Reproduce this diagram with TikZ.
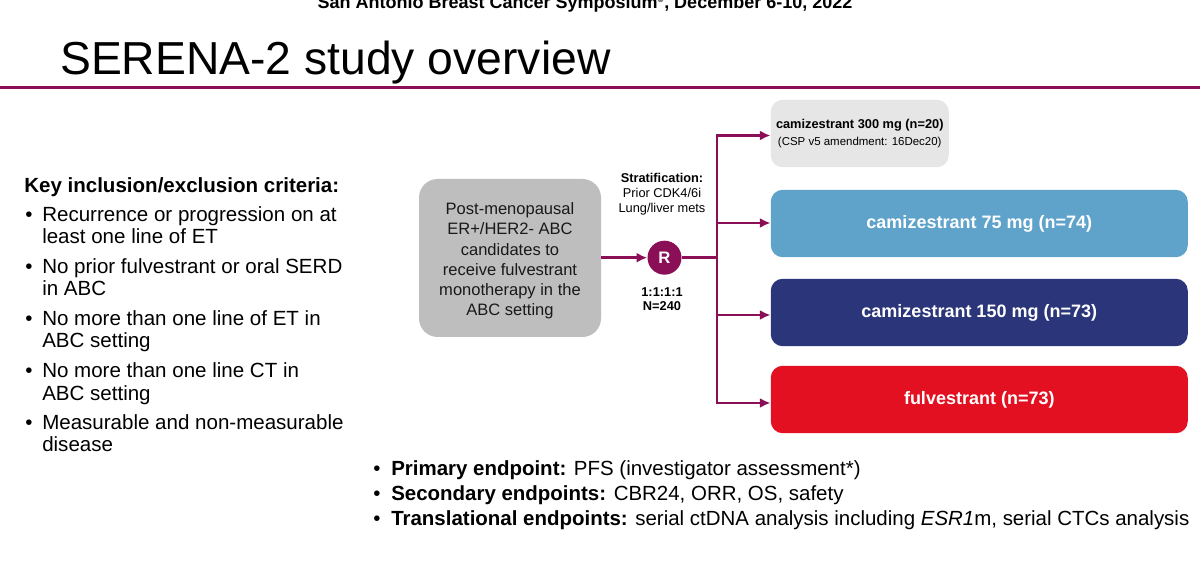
\documentclass[tikz,border=0pt]{standalone}
\usepackage{fontspec}
\setmainfont{Liberation Sans}
\usetikzlibrary{arrows.meta}
\definecolor{maroon}{HTML}{8A0F57}
\definecolor{graybox}{HTML}{BEBEBE}
\definecolor{lightbox}{HTML}{E6E6E6}
\definecolor{bluebox}{HTML}{5FA3CB}
\definecolor{navybox}{HTML}{2B3579}
\definecolor{redbox}{HTML}{E21020}
\newcommand{\fs}[1]{\fontsize{#1}{#1}\selectfont}
\tikzset{
  x=0.75pt,y=-0.75pt,
  arm/.style={rounded corners=9pt,minimum width=312.75pt,minimum height=50.6pt,inner sep=0pt,align=center,text=white,font=\fs{13.5}\bfseries,anchor=west},
  conn/.style={draw=maroon,line width=2.1pt},
  arrowline/.style={conn,-{Latex[length=8pt,width=7.5pt]}},
  txt/.style={inner sep=0pt,anchor=base west},
  ctr/.style={inner sep=0pt,anchor=base},
  bul/.style={inner sep=0pt,anchor=base west,font=\fs{15.4}},
  bot/.style={inner sep=0pt,anchor=base west,font=\fs{15.35}}
}
\begin{document}
\begin{tikzpicture}
\useasboundingbox (0,0) rectangle (1200,573);
\fill[white] (0,0) rectangle (1200,573);
% header
\node[ctr,font=\fs{13.5}\bfseries] (head) at (585,9) {San Antonio Breast Cancer Symposium\textsuperscript{\fs{6}©}, December 6-10, 2022};
\node[txt,font=\fs{34.7}] (title) at (60,74.5) {SERENA-2 study overview};
\fill[maroon] (0,86.5) rectangle (1200,89);
% left list
\node[txt,font=\fs{15.4}\bfseries] (kic) at (24,193) {Key inclusion/exclusion criteria:};
\foreach \n/\y/\t in {a/222/Recurrence or progression on at,a2/244/least one line of ET,b/274/No prior fulvestrant or oral SERD,b2/296/in ABC,c/326/No more than one line of ET in,c2/348/ABC setting,d/378/No more than one line CT in,d2/401/ABC setting,e/430/Measurable and non-measurable,e2/452/disease}{
  \node[bul] (l\n) at (42,\y) {\t};
}
\foreach \n/\y in {a/222,b/274,c/326,d/378,e/430}{
  \node[bul] (m\n) at (25,\y) {•};
}
% population box
\node[fill=graybox,rounded corners=14pt,minimum width=136.5pt,minimum height=118.5pt,inner sep=0pt] (pop) at (510,258) {};
\foreach \k/\y/\t in {p1/214.5/Post-menopausal,p2/234.8/{ER+/HER2- ABC},p3/255.1/candidates to,p4/275.4/receive fulvestrant,p5/295.7/monotherapy in the,p6/316/ABC setting}{
  \node[ctr,font=\fs{12.4},text=black!90] (\k) at (510,\y) {\t};
}
% strat
\node[ctr,font=\fs{9.6}\bfseries] (s1) at (662,183) {Stratification:};
\node[ctr,font=\fs{9.6}] (s2) at (662,197.5) {Prior CDK4/6i};
\node[ctr,font=\fs{9.6}] (s3) at (662,213) {Lung/liver mets};
\node[circle,fill=maroon,minimum size=25.5pt,inner sep=0pt,text=white,font=\fs{12.5}\bfseries] (R) at (664.5,257.7) {R};
\node[ctr,font=\fs{9.6}\bfseries] (r1) at (662,296.5) {1:1:1:1};
\node[ctr,font=\fs{9.6}\bfseries] (r2) at (662,311) {N=240};
% arms
\node[arm,minimum width=133.5pt,fill=lightbox,text=black] (a0) at (770.5,133.5) {{\fs{9.6}\bfseries camizestrant 300 mg (n=20)}\\[-1pt]{\fs{8.6}\mdseries (CSP v5 amendment: 16Dec20)}};
\node[arm,fill=bluebox] (a1) at (770.5,223.5) {camizestrant 75 mg (n=74)};
\node[arm,fill=navybox] (a2) at (770.5,312.5) {camizestrant 150 mg (n=73)};
\node[arm,fill=redbox] (a3) at (770.5,399.5) {fulvestrant (n=73)};
% connectors
\coordinate (trunk) at (717,257.7);
\draw[arrowline] (pop.east|-R.west) -- (R.west);
\draw[conn] (R.east) -- (trunk);
\coordinate (top) at (717,135.5);
\coordinate (midA) at (717,223);
\coordinate (midB) at (717,315);
\coordinate (bottom) at (717,403);
\draw[conn,line cap=rect] (top) -- (bottom);
\draw[arrowline] (top) -- (a0.west|-top);
\draw[arrowline] (midA) -- (a1.west|-midA);
\draw[arrowline] (midB) -- (a2.west|-midB);
\draw[arrowline] (bottom) -- (a3.west|-bottom);
% endpoints
\node[bot] (e1b) at (373,475) {•};
\node[bot] (e1) at (391,475) {\textbf{Primary endpoint:} PFS (investigator assessment*)};
\node[bot] (e2b) at (373,500) {•};
\node[bot] (e2) at (391,500) {\textbf{Secondary endpoints:} CBR24, ORR, OS, safety};
\node[bot] (e3b) at (373,526) {•};
\node[bot] (e3) at (391,526) {\textbf{Translational endpoints:} serial ctDNA analysis including \textit{ESR1}m, serial CTCs analysis};
\end{tikzpicture}
\end{document}
